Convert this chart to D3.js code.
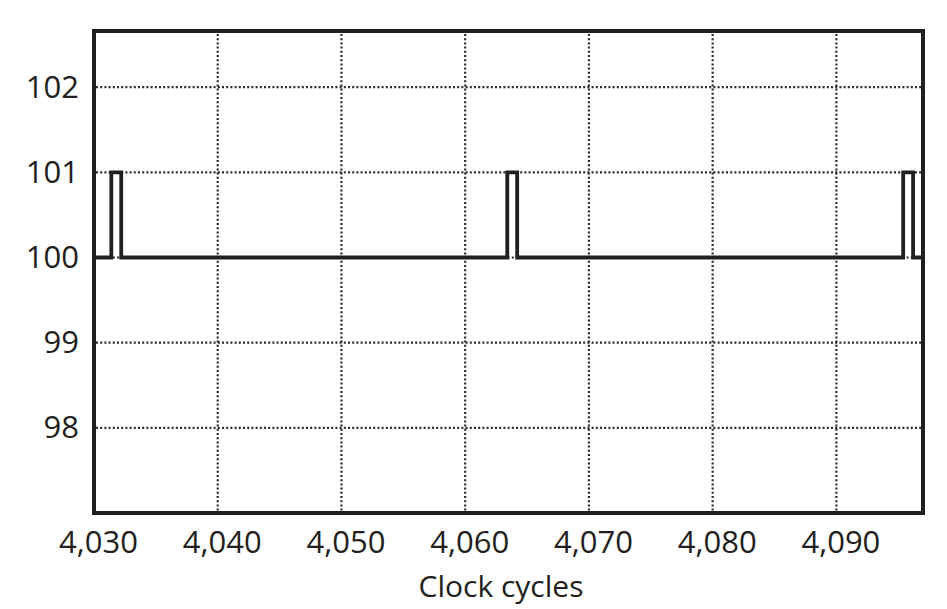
<!DOCTYPE html>
<html>
<head>
<meta charset="utf-8">
<script src="https://cdn.jsdelivr.net/npm/d3@7"></script>
<style>
  body { margin: 0; background: #fff; }
  text { font-family: "Open Sans", sans-serif; fill: #231f20; }
</style>
</head>
<body>
<svg id="chart" width="947" height="609"></svg>
<script>
// step signal: value holds until next cycle point
const cycles = [4030, 4031.4, 4032.2, 4063.4, 4064.2, 4095.4, 4096.2, 4097];
const values = [100, 101, 100, 101, 100, 101, 100, 100];

const xTicks = [4030, 4040, 4050, 4060, 4070, 4080, 4090];
const yTicks = [98, 99, 100, 101, 102];

const plotLeft = 94, plotRight = 923, plotTop = 31, plotBottom = 513;
const ink = "#231f20";

const svg = d3.select("#chart");

const x = d3.scaleLinear().domain([4030, 4097]).range([plotLeft, plotRight]);
const y = d3.scaleLinear().domain([97, 102.66]).range([plotBottom, plotTop]);

// dotted grid
const grid = svg.append("g").attr("id", "grid");
grid
  .selectAll("line.v")
  .data(xTicks.slice(1))
  .enter()
  .append("line")
  .attr("class", "v")
  .attr("x1", (d) => x(d))
  .attr("x2", (d) => x(d))
  .attr("y1", plotTop + 3)
  .attr("y2", plotBottom - 2);
grid
  .selectAll("line.h")
  .data(yTicks)
  .enter()
  .append("line")
  .attr("class", "h")
  .attr("x1", plotLeft + 2)
  .attr("x2", plotRight - 2)
  .attr("y1", (d) => y(d))
  .attr("y2", (d) => y(d));
grid
  .selectAll("line")
  .attr("stroke", "#2a2a2a")
  .attr("stroke-width", 2.2)
  .attr("stroke-dasharray", "2,2.2");

// axes (labels only, frame drawn below)
const xAxis = svg
  .append("g")
  .attr("transform", `translate(4, ${plotBottom})`)
  .call(
    d3.axisBottom(x).tickValues(xTicks).tickFormat(d3.format(",")).tickSize(0).tickPadding(18)
  );
const yAxis = svg
  .append("g")
  .attr("transform", `translate(${plotLeft}, 0)`)
  .call(d3.axisLeft(y).tickValues(yTicks).tickFormat(d3.format("d")).tickSize(0).tickPadding(15));

[xAxis, yAxis].forEach((a) => {
  a.select(".domain").remove();
  a.selectAll("text")
    .style("font-family", '"Open Sans", sans-serif')
    .style("font-size", "31px")
    .attr("fill", ink);
});
xAxis.selectAll("text").attr("dy", "0.71em");

svg
  .append("text")
  .attr("x", 501)
  .attr("y", 597)
  .attr("text-anchor", "middle")
  .style("font-size", "30px")
  .text("Clock cycles");

// signal
const line = d3
  .line()
  .x((d, i) => x(cycles[i]))
  .y((d) => y(d))
  .curve(d3.curveStepAfter);

svg
  .append("path")
  .datum(values)
  .attr("d", line)
  .attr("fill", "none")
  .attr("stroke", ink)
  .attr("stroke-width", 3.8)
  .attr("stroke-linejoin", "miter");

// frame
svg
  .append("rect")
  .attr("x", plotLeft)
  .attr("y", plotTop)
  .attr("width", plotRight - plotLeft)
  .attr("height", plotBottom - plotTop)
  .attr("fill", "none")
  .attr("stroke", ink)
  .attr("stroke-width", 4);
</script>
</body>
</html>
